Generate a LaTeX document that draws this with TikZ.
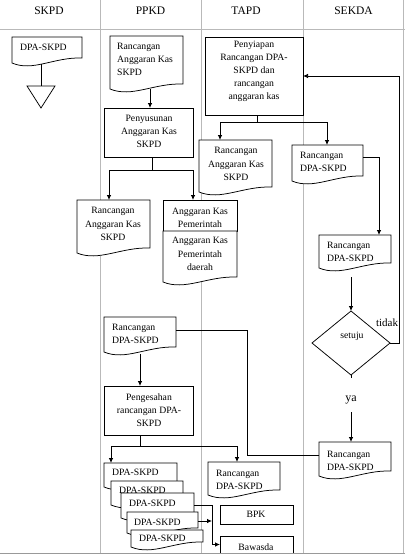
\documentclass[tikz,border=0pt]{standalone}
\usepackage{fontspec}
\setmainfont{Liberation Serif}
\usetikzlibrary{calc,arrows.meta,shapes.geometric}

\tikzset{
  gridline/.style={draw=gray!55, line width=0.8pt},
  flow/.style={draw=black, line width=0.75pt},
  arr/.style={flow, -{Latex[length=5pt,width=4.5pt]}},
  shapeonly/.style={inner sep=0, outer sep=0, anchor=north west},
  procbox/.style={shapeonly, draw=black, fill=white, line width=0.75pt},
  txt/.style={font=\fontsize{9.7}{13.2}\selectfont, inner sep=0, align=center},
  txtl/.style={txt, align=left, anchor=west},
  hdr/.style={font=\fontsize{11.5}{13}\selectfont, inner sep=0},
}

% document symbol: name, x1, y1, x2, y2 (left bottom corner)
\newcommand\docshape[5]{%
  \node[shapeonly, minimum width={(#4-#2)*1pt}, minimum height={(#5-#3)*1pt}] (#1) at (#2,#3) {};
  \draw[flow, fill=white] (#1.north west) -- (#1.south west)
    .. controls +({0.3*(#4-#2)},9) and +({-0.4*(#4-#2)},-1) .. ($(#1.south east)+(0,-5)$)
    -- (#1.north east) -- cycle;
}
% process rectangle: name, x1, y1, x2, y2
\newcommand\procshape[5]{%
  \node[procbox, minimum width={(#4-#2)*1pt}, minimum height={(#5-#3)*1pt}] (#1) at (#2,#3) {};
}

\begin{document}
\begin{tikzpicture}[x=1pt,y=-1pt]
\useasboundingbox (0,0) rectangle (405,557);

% ---------- table ----------
\draw[gridline] (0,29) -- (405,29);
\draw[gridline] (100,0) -- (100,553);
\draw[gridline] (201,0) -- (201,553);
\draw[gridline] (303,0) -- (303,553);
\draw[gridline] (403.5,0) -- (403.5,553);

\node[hdr] (h1) at (49,11) {SKPD};
\node[hdr] (h2) at (150.5,11) {PPKD};
\node[hdr] (h3) at (246,11) {TAPD};
\node[hdr] (h4) at (353.5,11) {SEKDA};

% ---------- SKPD ----------
\docshape{s1}{12}{37}{82}{63}
\node[txtl] (s1t) at (20,47) {DPA-SKPD};
\node[shapeonly, minimum width=28pt, minimum height=22pt] (tri) at (27,86) {};
\draw[flow] (tri.north west) -- (tri.north east) -- (tri.south) -- cycle;
\draw[flow] ($(s1.south)+(-6,1)$) -- (tri.north);

% ---------- PPKD top ----------
\docshape{p1}{110}{36}{183}{89}
\node[txtl] (p1t) at (117,59.5) {Rancangan\\Anggaran Kas\\SKPD};
\procshape{p2}{104}{108}{193}{157}
\node[txt] (p2t) at (149,131.5) {Penyusunan\\Anggaran Kas\\SKPD};
\draw[arr] ($(p1.south)+(3.5,0)$) -- ($(p2.north)+(1.5,0)$);

\docshape{p3}{77}{200}{150}{253}
\node[txt] (p3t) at (113,224) {Rancangan\\Anggaran Kas\\SKPD};
\procshape{p4}{163}{200}{237}{231}
\node[txt] (p4t) at (200,217.5) {Anggaran Kas\\Pemerintah};
\docshape{p5}{163}{231}{237}{282}
\node[txt] (p5t) at (200,254) {Anggaran Kas\\Pemerintah\\daerah};

\draw[flow] ($(p2.south)+(3.5,0)$) -- ($(p2.south)+(3.5,13)$);
\draw[arr] ($(p2.south)+(3.5,13)$) -| ($(p3.north)+(-4.5,0)$);
\draw[arr] ($(p2.south)+(3.5,13)$) -| ($(p4.north)+(-7,0)$);

% ---------- TAPD top ----------
\procshape{t1}{205}{37}{303}{115}
\node[txt] (t1t) at (254,71.4) {Penyiapan\\Rancangan DPA-\\SKPD dan\\rancangan\\anggaran kas};
\docshape{t2}{199}{140}{272}{192}
\node[txt] (t2t) at (236,164) {Rancangan\\Anggaran Kas\\SKPD};
\docshape{k1}{292}{145}{363}{181}
\node[txtl] (k1t) at (300,161.5) {Rancangan\\DPA-SKPD};

\draw[flow] ($(t1.south)+(3,0)$) -- ($(t1.south)+(3,7)$);
\draw[arr] ($(t1.south)+(3,7)$) -| ($(t2.north)+(-15.5,0)$);
\draw[arr] ($(t1.south)+(3,7)$) -| ($(k1.north)+(-0.5,0)$);

% ---------- SEKDA ----------
\docshape{k2}{319}{235}{391}{268}
\node[txtl] (k2t) at (327,251.5) {Rancangan\\DPA-SKPD};
\draw[arr] ($(k1.north east)+(0,12)$) -| ($(k2.north)+(24,0)$);

\node[shapeonly, minimum width=78pt, minimum height=64pt] (dec) at (312,311) {};
\draw[flow, fill=white] (dec.north) -- (dec.east) -- (dec.south) -- (dec.west) -- cycle;
\node[txt] (dect) at (352,336) {setuju};
\draw[arr] ($(k2.south)+(-4,9)$) -- (dec.north);

\node[font=\fontsize{11}{13}\selectfont, inner sep=0] (tidak) at (387,323) {tidak};
\draw[arr] (dec.east) -- ++(9,0) |- (t1.east);

\draw[flow] (dec.south) -- ++(0,3);
\node[font=\fontsize{12}{14}\selectfont, inner sep=0] (ya) at (351,400) {ya};

\docshape{k3}{319}{442}{391}{476}
\node[txtl] (k3t) at (327,460.5) {Rancangan\\DPA-SKPD};
\draw[arr] ($(dec.south)+(0,37)$) -- ($(k3.north)+(-4,0)$);

% ---------- PPKD bottom ----------
\docshape{p6}{104}{317}{176}{352}
\node[txtl] (p6t) at (112,334) {Rancangan\\DPA-SKPD};
\draw[flow] ($(k3.north west)+(0,13)$) -- ++(-72,0) |- ($(p6.north east)+(0,13)$);

\procshape{p7}{104}{386}{193}{435}
\node[txt] (p7t) at (149,410) {Pengesahan\\rancangan DPA-\\SKPD};
\draw[arr] ($(p6.south)+(0,2)$) -- ($(p7.north)+(-8.5,0)$);

\docshape{t3}{208}{462}{280}{495}
\node[txtl] (t3t) at (216,479.5) {Rancangan\\DPA-SKPD};

% stacked documents
\docshape{d1}{104}{463}{177}{487}
\node[txtl] (d1t) at (112,472) {DPA-SKPD};
\docshape{d2}{111}{481}{183}{505}
\node[txtl] (d2t) at (119,490.5) {DPA-SKPD};
\docshape{d3}{121}{493}{194}{518}
\node[txtl] (d3t) at (129,503) {DPA-SKPD};
\docshape{d4}{127}{512}{198}{533}
\node[txtl] (d4t) at (134,522) {DPA-SKPD};
\docshape{d5}{131}{530}{203}{547}
\node[txtl] (d5t) at (139,538) {DPA-SKPD};

\draw[flow] ($(p7.south)+(-8.5,0)$) -- ($(p7.south)+(-8.5,11)$);
\draw[arr] ($(p7.south)+(-8.5,11)$) -| ($(d1.north)+(-29.5,0)$);
\draw[arr] ($(p7.south)+(-8.5,11)$) -| ($(t3.north)+(-7,0)$);

\procshape{bpk}{220}{505}{293}{524}
\node[txt] (bpkt) at (256,514.5) {BPK};
\procshape{bw}{220}{536}{293}{553}
\node[txt] (bwt) at (256,547) {Bawasda};

\draw[arr] ($(d3.north east)+(0,12)$) -- ++(18,0) |- (bw.west);
\draw[arr] ($(d4.north east)+(0,9)$) -- ++(14,0);

\draw[draw=gray!80, line width=0.8pt] (0,553) -- (405,553);
\end{tikzpicture}
\end{document}
